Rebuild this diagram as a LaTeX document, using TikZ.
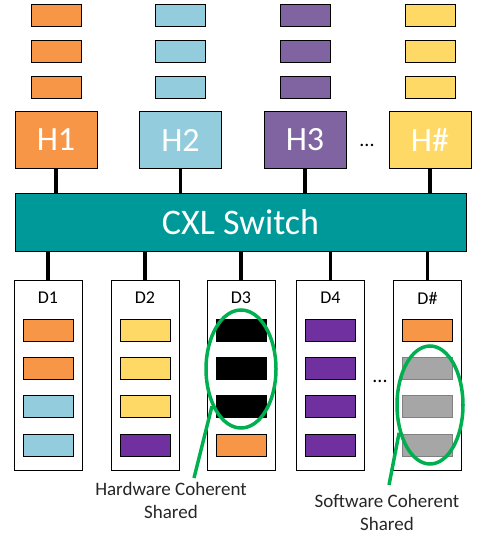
\documentclass[tikz,border=0pt]{standalone}
\usepackage{fontspec}
\setmainfont{Carlito}
\usetikzlibrary{positioning,calc,shapes.geometric}

\definecolor{hOrange}{HTML}{F79646}
\definecolor{hBlue}{HTML}{93CDDD}
\definecolor{hPurple}{HTML}{8064A2}
\definecolor{hYellow}{HTML}{FFD966}
\definecolor{dPurple}{HTML}{7030A0}
\definecolor{sGray}{HTML}{A6A6A6}
\definecolor{swTeal}{HTML}{009999}
\definecolor{ringGreen}{HTML}{00B050}
\definecolor{txtGray}{HTML}{262626}

\begin{document}
\begin{tikzpicture}[x=1pt, y=-1pt,
    bar/.style={draw, line width=0.8pt, minimum width=50pt, minimum height=22pt, inner sep=0pt},
    host/.style={draw, line width=0.8pt, minimum width=82pt, minimum height=57pt,
      text=white, font=\fontsize{34}{34}\selectfont},
    dev/.style={draw, line width=0.8pt, minimum width=68pt, minimum height=190pt},
    link/.style={line width=3.5pt},
    ring/.style={ellipse, draw=ringGreen, line width=3.5pt, inner sep=0pt},
    note/.style={text=txtGray, align=center, font=\fontsize{19}{23}\selectfont}]

      \useasboundingbox (0,0) rectangle (482,540);

      \node[draw, line width=0.8pt, fill=swTeal, minimum width=451pt, minimum height=58pt,
      text=white, font=\fontsize{36}{36}\selectfont] (sw) at (240.5,222) {CXL Switch};

      \foreach \i/\x/\c/\t in {1/56/hOrange/H1, 2/180.5/hBlue/H2, 3/305/hPurple/H3, 4/430/hYellow/H\#} {
        \node[host, fill=\c] (h\i) at (\x,140) {\t};
        \foreach \r/\y in {1/15, 2/51, 3/87} {
          \node[bar, fill=\c] (hbar-\i-\r) at (\x,\y) {};
        };
        \draw[link] (h\i.south) -- (h\i.south |- sw.north);
      };
      \node[font=\fontsize{20}{20}\selectfont] (hdots) at (367,145) {...};

      \foreach \i/\x/\t/\cols in {
        1/48/D1/{hOrange/black, hOrange/black, hBlue/black, hBlue/black},
        2/145/D2/{hYellow/black, hYellow/black, hYellow/black, dPurple/black},
        3/241/D3/{black/black, black/black, black/black, hOrange/black},
        4/330.5/D4/{dPurple/black, dPurple/black, dPurple/black, dPurple/black},
        5/427.5/D\#/{hOrange/black, sGray/gray, sGray/gray, sGray/gray}} {
        \node[dev] (d\i) at (\x,375) {};
        \node[font=\fontsize{18}{18}\selectfont] (dlab\i) at (\x,298) {\t};
        \foreach \c/\b [count=\r] in \cols {
          \node[bar, fill=\c, draw=\b] (dbar-\i-\r) at (\x,{330+38.3*(\r-1)}) {};
        };
        \draw[link] (d\i.north |- sw.south) -- (d\i.north);
      };
      \node[font=\fontsize{20}{20}\selectfont] (ddots) at (380,381) {...};

      \node[ring, minimum width=70pt, minimum height=118pt] (hwRing) at (241,369) {};
      \node[ring, minimum width=66pt, minimum height=118pt] (swRing) at (430,405) {};

      \node[note] (hwText) at (171,500) {Hardware Coherent\\Shared};
      \node[note] (swText) at (387,512) {Software Coherent\\Shared};

      \coordinate (hwEnd) at (194,478);
      \coordinate (swEnd) at (389,485);
      \draw[draw=ringGreen, line width=3.5pt] (hwRing.232) -- (hwEnd);
      \draw[draw=ringGreen, line width=3.5pt] (swRing.222) -- (swEnd);
    \end{tikzpicture}
\end{document}
